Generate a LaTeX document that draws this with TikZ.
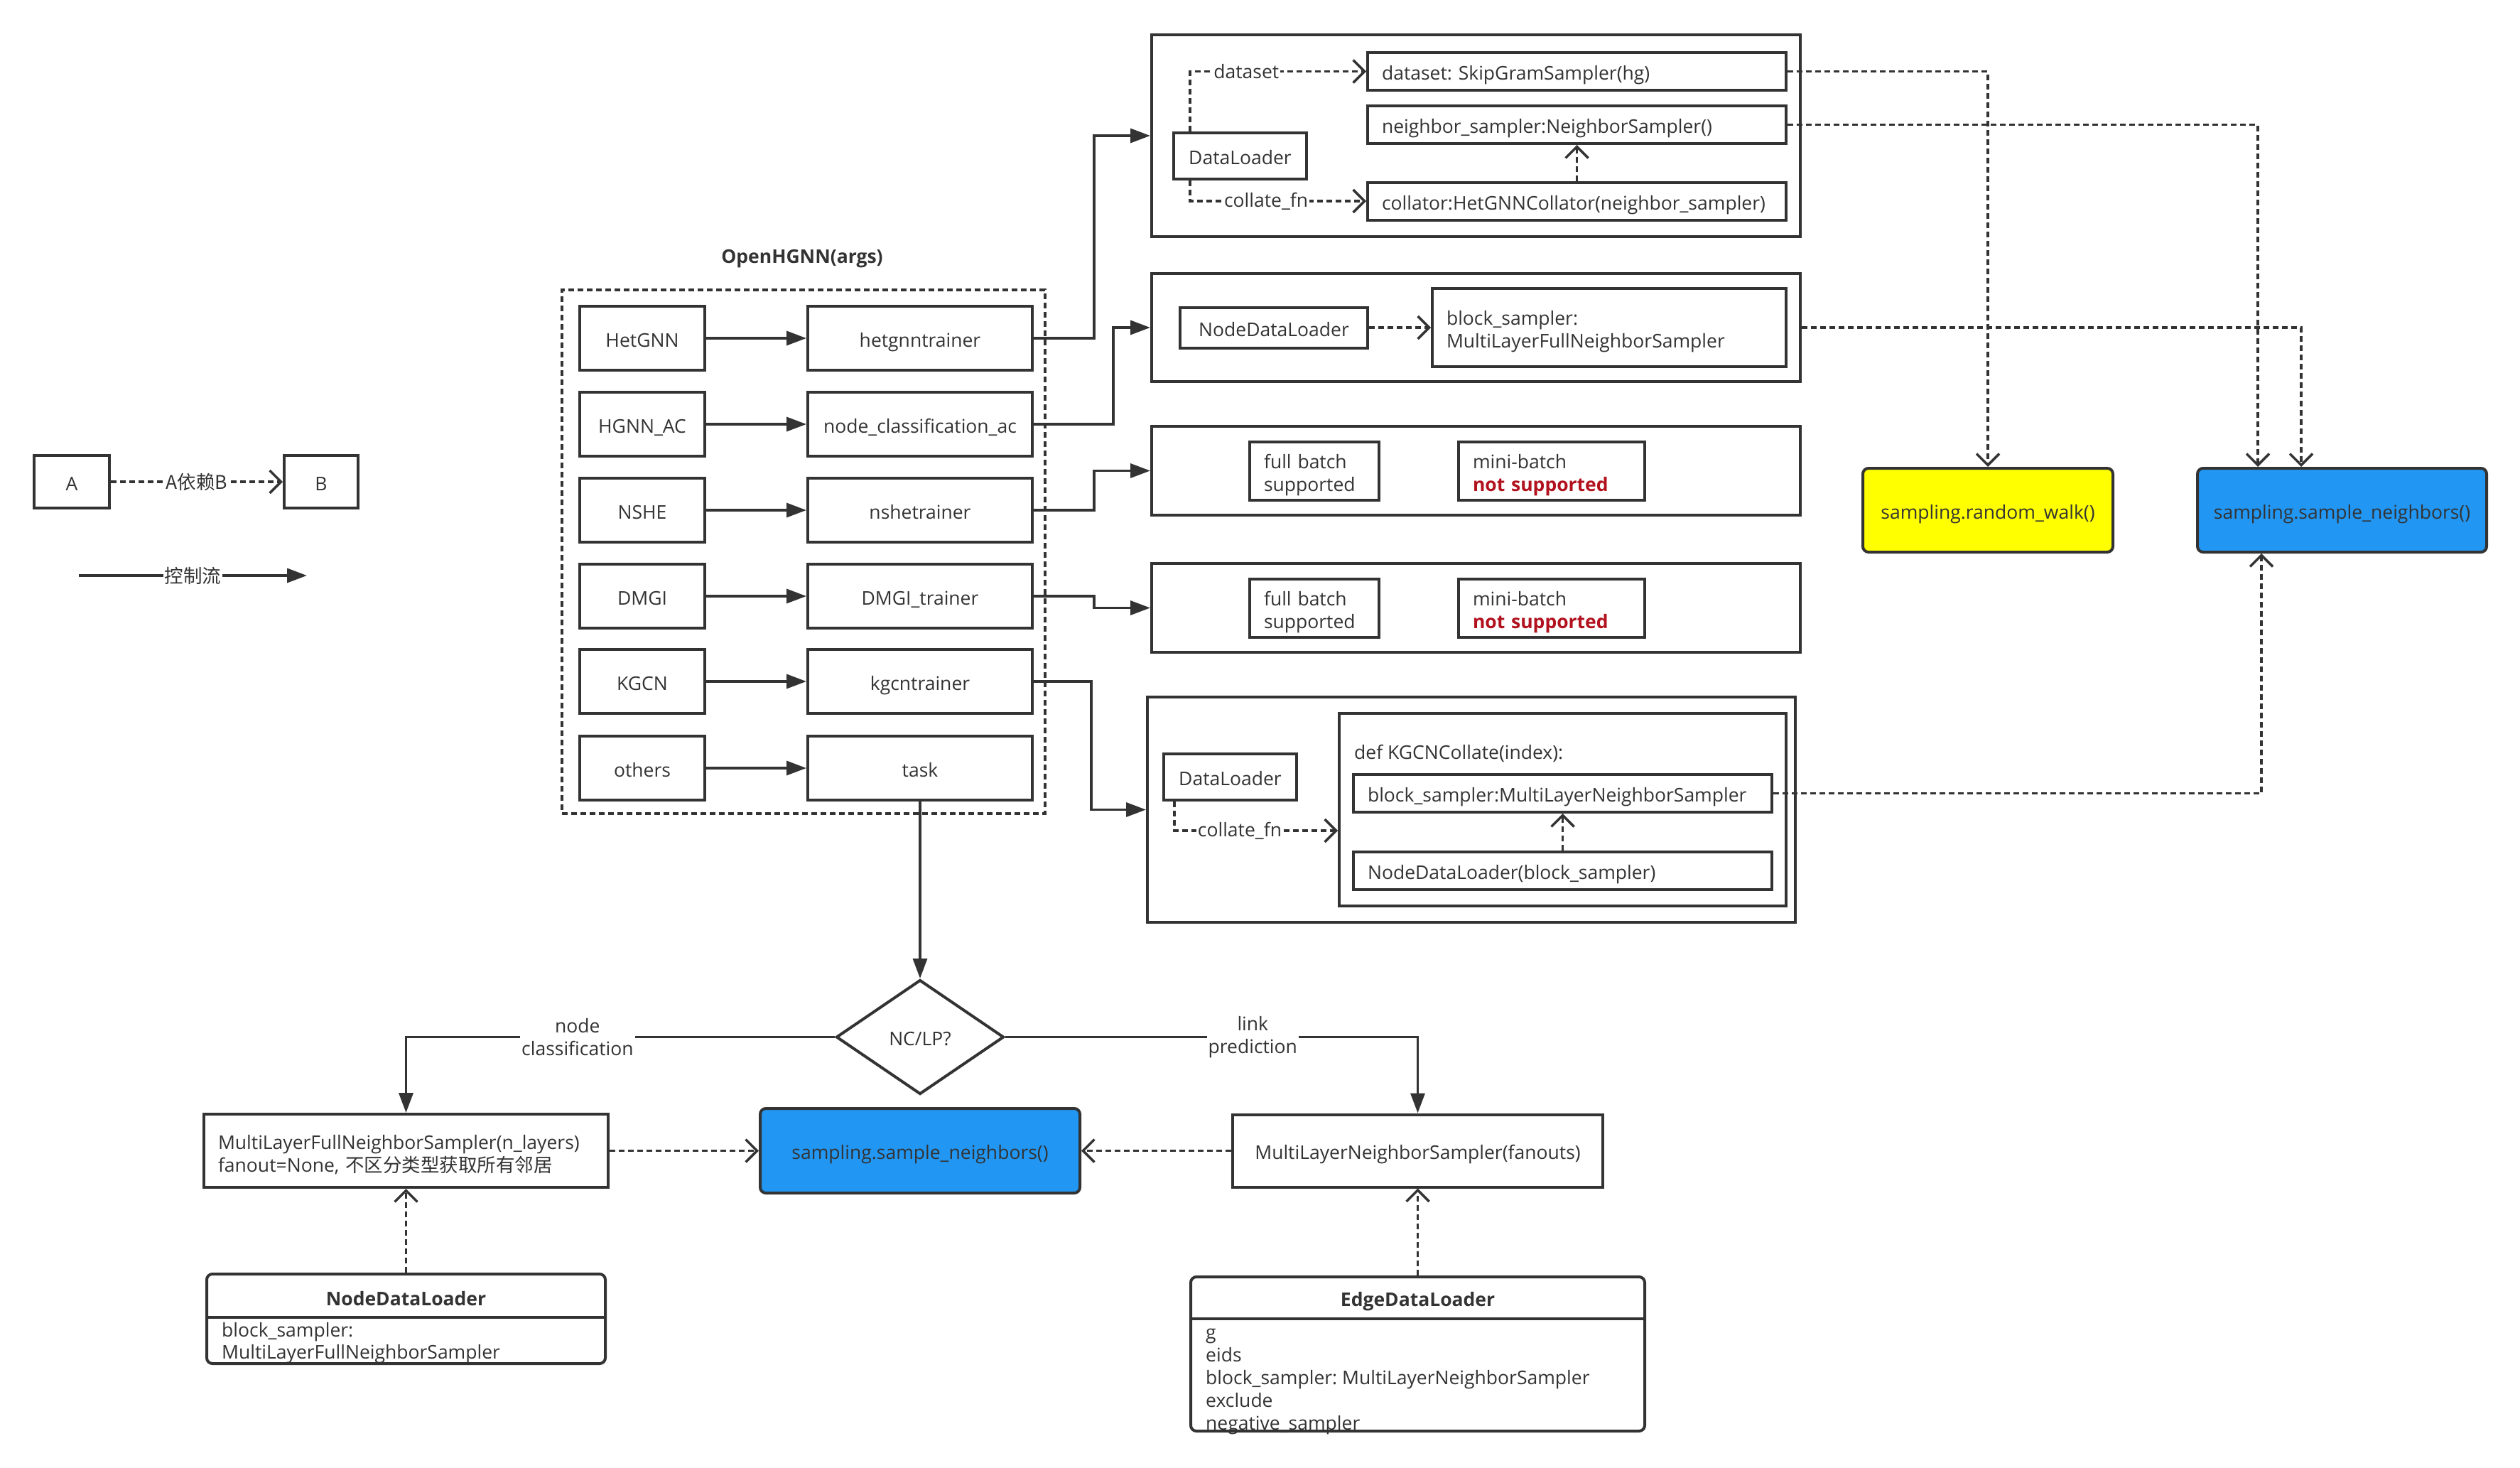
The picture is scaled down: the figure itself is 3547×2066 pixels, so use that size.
\documentclass[tikz,border=0pt]{standalone}
\usepackage{fontspec}
\setmainfont{Open Sans}
\newfontfamily\cjk{Noto Sans CJK SC}
\frenchspacing
\usetikzlibrary{arrows.meta,shapes.geometric,calc}
\definecolor{ink}{HTML}{333333}
\definecolor{hlyellow}{HTML}{FFFF00}
\definecolor{hlblue}{HTML}{2196F3}
\definecolor{warnred}{RGB}{178,18,30}
\newcommand\myTopStrut{\rule{0pt}{32pt}}
\tikzset{
  oneline/.style={text height=26pt, text depth=2pt},
  box/.style={draw=ink, line width=4pt, rectangle, inner sep=0pt, align=center, text=ink, oneline},
  lbox/.style={draw=ink, line width=4pt, rectangle, inner ysep=0pt, inner xsep=20pt, align=left, text width=#1, text=ink},
  rbox/.style={box, rounded corners=8pt},
  mbox/.style={box, minimum width=176pt, minimum height=90pt},
  tbox/.style={box, minimum width=316pt, minimum height=90pt},
  dotframe/.style={draw=ink, line width=3.5pt, dash pattern=on 8pt off 5pt, inner sep=0pt},
  ctrl/.style={draw=ink, line width=3.5pt, -{Triangle[length=28pt,width=20pt]}},
  dep/.style={draw=ink, line width=3.5pt, dash pattern=on 8pt off 5pt, -{Straight Barb[length=16pt,width=32pt]}},
  lbl/.style={fill=white, inner sep=2pt, text=ink, align=center},
  txt/.style={inner sep=0pt, text=ink},
  boldtxt/.style={inner sep=0pt, text=ink, font=\fontsize{26.5pt}{32pt}\selectfont\bfseries},
  sep/.style={draw=ink, line width=4pt},
}
\begin{document}
\begin{tikzpicture}[x=1pt,y=-1pt,font=\fontsize{26.5pt}{32pt}\selectfont]
\useasboundingbox (0,0) rectangle (3547,2066);
\fill[white] (0,0) rectangle (3547,2066);

% ---------- legend ----------
\node[box, minimum width=106pt, minimum height=74pt] (legA) at (101,678) {A};
\node[box, minimum width=104pt, minimum height=74pt] (legB) at (452,678) {B};
\draw[dep] (legA) -- node[lbl]{\cjk A依赖B} (legB);
\coordinate (cfA) at (111,810);
\coordinate (cfB) at (432,810);
\draw[ctrl] (cfA) -- node[lbl]{\cjk 控制流} (cfB);

% ---------- OpenHGNN ----------
\node[boldtxt] (title) at (1129,364) {OpenHGNN(args)};
\node[dotframe, minimum width=680pt, minimum height=737pt] (hgframe) at (1131,776.5) {};
\node[mbox] (m1) at (904,476) {HetGNN};
\node[mbox] (m2) at (904,597) {HGNN\_AC};
\node[mbox] (m3) at (904,718) {NSHE};
\node[mbox] (m4) at (904,839) {DMGI};
\node[mbox] (m5) at (904,959) {KGCN};
\node[mbox] (m6) at (904,1081) {others};
\node[tbox] (t1) at (1295,476) {hetgnntrainer};
\node[tbox] (t2) at (1295,597) {node\_classification\_ac};
\node[tbox] (t3) at (1295,718) {nshetrainer};
\node[tbox] (t4) at (1295,839) {DMGI\_trainer};
\node[tbox] (t5) at (1295,959) {kgcntrainer};
\node[tbox] (t6) at (1295,1081) {task};
\foreach \i in {1,...,6} { \draw[ctrl] (m\i) -- (t\i); }

% ---------- outer boxes ----------
\node[box, minimum width=913pt, minimum height=284pt] (b1) at (2077.5,191) {};
\node[box, minimum width=913pt, minimum height=152pt] (b2) at (2077.5,461) {};
\node[box, minimum width=913pt, minimum height=125pt] (b3) at (2077.5,662.5) {};
\node[box, minimum width=913pt, minimum height=125pt] (b4) at (2077.5,855.5) {};
\node[box, minimum width=912pt, minimum height=317pt] (b5) at (2071,1139.5) {};
\draw[ctrl] (t1.east) -- ++(85,0) |- (b1.west);
\draw[ctrl] (t2.east) -- ++(112,0) |- (b2.west);
\draw[ctrl] (t3.east) -- ++(85,0) |- (b3.west);
\draw[ctrl] (t4.east) -- ++(85,0) |- (b4.west);
\draw[ctrl] (t5.east) -- ++(81,0) |- (b5.west);

% box 1
\node[box, minimum width=187pt, minimum height=65pt] (dl1) at (1745.5,219.5) {DataLoader};
\node[lbox=549pt, oneline, minimum height=53pt] (ds) at (2219.5,100.5) {dataset: SkipGramSampler(hg)};
\node[lbox=549pt, oneline, minimum height=53pt] (ns) at (2219.5,175.5) {neighbor\_sampler:NeighborSampler()};
\node[lbox=549pt, oneline, minimum height=53pt] (col) at (2219.5,283) {collator:HetGNNCollator(neighbor\_sampler)};
\draw[dep] ($(dl1.north west)+(25,0)$) |- node[lbl,pos=0.66]{dataset} (ds.west);
\draw[dep] ($(dl1.south west)+(25,0)$) |- node[lbl,pos=0.716]{collate\_fn} (col.west);
\draw[dep] (col.north) -- (ns.south);

% box 2
\node[box, minimum width=264pt, minimum height=57pt] (ndl2) at (1793,461) {NodeDataLoader};
\node[lbox=458pt, minimum height=110pt] (bs2) at (2265,461) {\myTopStrut block\_sampler:\\MultiLayerFullNeighborSampler};
\draw[dep] (ndl2) -- (bs2);

% box 3 and 4
\node[lbox=142pt, minimum height=82pt] (fb3) at (1850,663) {\myTopStrut full batch\\supported};
\node[lbox=222pt, minimum height=82pt] (mb3) at (2184,663) {\myTopStrut mini-batch\\{\bfseries\color{warnred}not supported}};
\node[lbox=142pt, minimum height=82pt] (fb4) at (1850,855.5) {\myTopStrut full batch\\supported};
\node[lbox=222pt, minimum height=82pt] (mb4) at (2184,855.5) {\myTopStrut mini-batch\\{\bfseries\color{warnred}not supported}};

% box 5
\node[box, minimum width=187pt, minimum height=65pt] (dl5) at (1731.5,1093.5) {DataLoader};
\node[box, minimum width=629pt, minimum height=271pt] (def5) at (2199.5,1139.5) {};
\node[txt, anchor=base west] (deft) at (1906,1068) {def KGCNCollate(index):};
\node[lbox=549pt, oneline, minimum height=53pt] (bs5) at (2199.5,1116.5) {block\_sampler:MultiLayerNeighborSampler};
\node[lbox=549pt, oneline, minimum height=53pt] (nd5) at (2199.5,1225.5) {NodeDataLoader(block\_sampler)};
\draw[dep] (nd5.north) -- (bs5.south);
\draw[dep] ($(dl5.south west)+(17,0)$) |- node[lbl,pos=0.7]{collate\_fn} ($(def5.west)+(0,29.5)$);

% ---------- sampling ----------
\node[rbox, fill=hlyellow, minimum width=352pt, minimum height=118pt] (rw) at (2798,718) {sampling.random\_walk()};
\node[rbox, fill=hlblue, minimum width=407pt, minimum height=118pt] (sn) at (3296.5,718) {sampling.sample\_neighbors()};
\draw[dep] (ds.east) -| (rw.north);
\draw[dep] (ns.east) -| ($(sn.north)+(-118.5,0)$);
\draw[dep] (b2.east) -| ($(sn.north)+(-57.5,0)$);
\draw[dep] (bs5.east) -| ($(sn.south)+(-113.5,0)$);

% ---------- bottom ----------
\node[draw=ink, line width=4pt, diamond, minimum width=236pt, minimum height=161pt, inner sep=0pt, text=ink, oneline] (dia) at (1295,1459.5) {NC/LP?};
\draw[ctrl] (t6.south) -- (dia.north);
\node[lbox=529pt, minimum height=103pt] (mlf) at (571.5,1619.5) {\myTopStrut MultiLayerFullNeighborSampler(n\_layers)\\fanout=None, {\cjk 不区分类型获取所有邻居}};
\draw[ctrl] (dia.west) -| node[lbl,pos=0.3]{node\\classification} (mlf.north);
\node[rbox, fill=hlblue, minimum width=450pt, minimum height=119pt] (sn2) at (1295,1619.5) {sampling.sample\_neighbors()};
\node[box, minimum width=521pt, minimum height=102pt] (mln) at (1995.5,1619.5) {MultiLayerNeighborSampler(fanouts)};
\draw[ctrl] (dia.east) -| node[lbl,pos=0.3]{link\\prediction} (mln.north);
\draw[dep] (mlf.east) -- (sn2.west);
\draw[dep] (mln.west) -- (sn2.east);

% NodeDataLoader (UML)
\node[rbox, minimum width=561pt, minimum height=126pt] (ndlb) at (571.5,1856) {};
\draw[sep] ($(ndlb.west)+(0,-2)$) -- ($(ndlb.east)+(0,-2)$);
\node[boldtxt, anchor=base] (ndlt) at (571.5,1837) {NodeDataLoader};
\node[txt, anchor=base west] (ndla) at (312,1881) {block\_sampler:};
\node[txt, anchor=base west] (ndlc) at (312,1912) {MultiLayerFullNeighborSampler};
\draw[dep] (ndlb.north) -- (mlf.south);

% EdgeDataLoader (UML)
\node[rbox, minimum width=639pt, minimum height=217pt] (edl) at (1995.5,1905.5) {};
\draw[sep] ($(edl.west)+(0,-49.5)$) -- ($(edl.east)+(0,-49.5)$);
\node[boldtxt, anchor=base] (edlt) at (1995.5,1838) {EdgeDataLoader};
\node[txt, anchor=base west] (e1) at (1697,1884) {g};
\node[txt, anchor=base west] (e2) at (1697,1916) {eids};
\node[txt, anchor=base west] (e3) at (1697,1948) {block\_sampler: MultiLayerNeighborSampler};
\node[txt, anchor=base west] (e4) at (1697,1980) {exclude};
\node[txt, anchor=base west] (e5) at (1697,2012) {negative\_sampler};
\draw[dep] (edl.north) -- (mln.south);
\end{tikzpicture}
\end{document}
